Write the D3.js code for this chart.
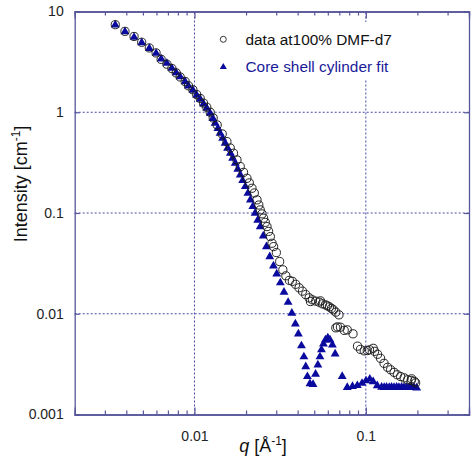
<!DOCTYPE html>
<html>
<head>
<meta charset="utf-8">
<script src="https://cdn.jsdelivr.net/npm/d3@7"></script>
<style>
  body { margin: 0; background: #fff; }
  svg { font-family: "Liberation Sans", Arial, sans-serif; }
</style>
</head>
<body>
<div id="chart"></div>
<script>
// measured data (open circles)
var dataQ = [0.00345, 0.00393, 0.00444, 0.00492, 0.00545, 0.00597, 0.00639, 0.0069, 0.00738, 0.00782,
  0.00825, 0.00882, 0.00922, 0.00979, 0.0103, 0.0108, 0.0113, 0.0118, 0.01235, 0.01286,
  0.01357, 0.01452, 0.01547, 0.01617, 0.0169, 0.0177, 0.0185, 0.01934, 0.02024, 0.0209,
  0.02166, 0.02234, 0.02317, 0.02374, 0.0242, 0.02478, 0.02532, 0.02591, 0.02651, 0.02708,
  0.02771, 0.02835, 0.02897, 0.03005, 0.03141, 0.0328, 0.03414, 0.0358, 0.03725, 0.03896,
  0.04078, 0.04265, 0.04457, 0.04667, 0.0475, 0.04877, 0.051, 0.0534, 0.0543, 0.0558,
  0.0581, 0.0597, 0.0613, 0.063, 0.0647, 0.0668, 0.0697, 0.0668, 0.0683, 0.0711,
  0.0748, 0.0779, 0.0842, 0.0894, 0.0931, 0.0979, 0.1019, 0.1051, 0.1104, 0.1125,
  0.1171, 0.1219, 0.1277, 0.134, 0.1395, 0.1462, 0.1526, 0.1596, 0.1673, 0.1754,
  0.1838, 0.185, 0.1919, 0.1953];
var dataI = [7.4, 6.35, 5.65, 4.95, 4.35, 3.88, 3.35, 3.0, 2.72, 2.46,
  2.24, 2.02, 1.83, 1.67, 1.5, 1.37, 1.23, 1.12, 1.0, 0.878,
  0.748, 0.609, 0.511, 0.442, 0.392, 0.336, 0.289, 0.253, 0.221, 0.199,
  0.176, 0.158, 0.135, 0.12, 0.1074, 0.098, 0.0888, 0.0807, 0.0733, 0.0657,
  0.0583, 0.0501, 0.0464, 0.0405, 0.033, 0.0273, 0.0238, 0.02145, 0.02097, 0.0196,
  0.0181, 0.01676, 0.0155, 0.01438, 0.01321, 0.01374, 0.01334, 0.01303, 0.01343, 0.01254,
  0.01225, 0.01198, 0.0117, 0.0113, 0.01093, 0.01037, 0.00975, 0.00724, 0.00741, 0.00736,
  0.00684, 0.00692, 0.00632, 0.00477, 0.00443, 0.00428, 0.00431, 0.00439, 0.00454, 0.00424,
  0.00396, 0.00361, 0.00322, 0.00294, 0.00278, 0.00262, 0.00248, 0.00238, 0.00231, 0.00221,
  0.00218, 0.00226, 0.00213, 0.00206];

// core shell cylinder fit (filled triangles)
var fitQ = [0.00345, 0.00393, 0.00444, 0.00492, 0.00545, 0.00597, 0.00639, 0.0069, 0.00738, 0.00782,
  0.00825, 0.00882, 0.00922, 0.00979, 0.0103, 0.0108, 0.0113, 0.0118, 0.01235, 0.0128,
  0.0132, 0.0137, 0.0141, 0.0146, 0.0151, 0.0156, 0.0162, 0.0167, 0.0173, 0.0179,
  0.0185, 0.0191, 0.0198, 0.0205, 0.0212, 0.0219, 0.0226, 0.0234, 0.0242, 0.0252,
  0.0263, 0.0275, 0.0289, 0.0302, 0.0317, 0.0333, 0.0352, 0.037, 0.0388, 0.0404,
  0.0421, 0.0435, 0.0446, 0.0456, 0.0472, 0.0492, 0.0509, 0.0525, 0.054, 0.0551,
  0.0566, 0.0581, 0.06, 0.0618, 0.0638, 0.0662, 0.0728, 0.0779, 0.0836, 0.0892,
  0.095, 0.1002, 0.1055, 0.1104, 0.1166, 0.1236, 0.128, 0.132, 0.137, 0.1413,
  0.146, 0.1512, 0.156, 0.1617, 0.167, 0.173, 0.179, 0.185, 0.191, 0.198];
var fitI = [7.35, 6.31, 5.55, 4.9, 4.31, 3.85, 3.38, 3.06, 2.73, 2.47,
  2.25, 2.01, 1.82, 1.66, 1.48, 1.35, 1.21, 1.1, 0.977, 0.87,
  0.778, 0.69, 0.619, 0.553, 0.493, 0.44, 0.392, 0.35, 0.312, 0.272,
  0.239, 0.21, 0.183, 0.157, 0.135, 0.116, 0.0995, 0.085, 0.0733, 0.0593,
  0.0464, 0.0369, 0.0299, 0.0249, 0.0203, 0.0164, 0.013, 0.01014, 0.00794, 0.0063,
  0.00481, 0.00374, 0.00299, 0.00238, 0.00202, 0.00199, 0.00251, 0.00311, 0.00374, 0.00439,
  0.00503, 0.00551, 0.00577, 0.00551, 0.00491, 0.004, 0.00239, 0.00186, 0.0019, 0.00194,
  0.00204, 0.00216, 0.00225, 0.00212, 0.00193, 0.00187, 0.00186, 0.00187, 0.00186, 0.00187,
  0.00186, 0.00187, 0.00186, 0.00187, 0.00186, 0.00187, 0.00186, 0.00187, 0.00186, 0.00184];

var xTicks = [0.01, 0.1];
var xTickLabels = ["0.01", "0.1"];
var xMinor = [0.003, 0.004, 0.005, 0.006, 0.007, 0.008, 0.009,
  0.02, 0.03, 0.04, 0.05, 0.06, 0.07, 0.08, 0.09, 0.2, 0.3];
var yTicks = [0.001, 0.01, 0.1, 1, 10];
var yTickLabels = ["0.001", "0.01", "0.1", "1", "10"];

var legendNames = ["data at100% DMF-d7", "Core shell cylinder fit"];

var width = 474, height = 467;
var margin = {top: 11.5, right: 5, bottom: 52.5, left: 74.7};
var axisColor = "#56569a", gridColor = "#4a4aaa", fitColor = "#0a0a9e";

var svg = d3.select("#chart").append("svg")
    .attr("width", width)
    .attr("height", height);

var x = d3.scaleLog().domain([0.002, 0.4]).range([margin.left, width - margin.right]);
var y = d3.scaleLog().domain([0.001, 10]).range([height - margin.bottom, margin.top]);

var x0 = x.range()[0], x1 = x.range()[1], y0 = y.range()[0], y1 = y.range()[1];

// grid
var grid = svg.append("g")
    .attr("stroke", gridColor)
    .attr("stroke-width", 1)
    .attr("stroke-dasharray", "2,2");
grid.selectAll(".vg").data(xTicks).enter().append("line")
    .attr("x1", function(d){ return x(d); }).attr("x2", function(d){ return x(d); })
    .attr("y1", y0).attr("y2", y1);
grid.selectAll(".hg").data(yTicks.slice(1, 4)).enter().append("line")
    .attr("x1", x0).attr("x2", x1)
    .attr("y1", function(d){ return y(d); }).attr("y2", function(d){ return y(d); });

// legend background hides the grid
svg.append("rect")
    .attr("x", 212).attr("y", 22).attr("width", 186).attr("height", 58)
    .attr("fill", "#fff");

// axes (ticks pointing inward)
svg.append("g")
    .attr("transform", "translate(0," + y0 + ")")
    .call(d3.axisBottom(x).tickValues(xTicks).tickSize(-7).tickFormat(function(d, i){ return xTickLabels[i]; }))
    .call(function(g){
      g.selectAll("text").attr("y", 17).attr("font-size", 14).attr("fill", "#222");
    });
svg.append("g")
    .attr("transform", "translate(0," + y0 + ")")
    .call(d3.axisBottom(x).tickValues(xMinor).tickSize(-4).tickFormat(""));
svg.append("g")
    .attr("transform", "translate(0," + y1 + ")")
    .call(d3.axisTop(x).tickValues(xTicks).tickSize(-7).tickFormat(""));
svg.append("g")
    .attr("transform", "translate(0," + y1 + ")")
    .call(d3.axisTop(x).tickValues(xMinor).tickSize(-4).tickFormat(""));
svg.append("g")
    .attr("transform", "translate(" + x0 + ",0)")
    .call(d3.axisLeft(y).tickValues(yTicks).tickSize(-5).tickFormat(function(d, i){ return yTickLabels[i]; }))
    .call(function(g){
      g.selectAll("text").attr("x", -11).attr("font-size", 14).attr("fill", "#222");
    });
svg.append("g")
    .attr("transform", "translate(" + x1 + ",0)")
    .call(d3.axisRight(y).tickValues(yTicks).tickSize(-5).tickFormat(""));

svg.selectAll(".domain").attr("stroke", axisColor).attr("stroke-width", 1.3);
svg.selectAll(".tick line").attr("stroke", axisColor).attr("stroke-width", 1.2);

// fit triangles
var tri = d3.symbol().type(d3.symbolTriangle).size(34);
svg.append("g").selectAll("path").data(fitQ).enter().append("path")
    .attr("d", tri)
    .attr("transform", function(d, i){ return "translate(" + x(d) + "," + y(fitI[i]) + ")"; })
    .attr("fill", fitColor);

// data circles
svg.append("g").selectAll("circle").data(dataQ).enter().append("circle")
    .attr("cx", function(d){ return x(d); })
    .attr("cy", function(d, i){ return y(dataI[i]); })
    .attr("r", 4.1)
    .attr("fill", "none")
    .attr("stroke", "#1a1a1a")
    .attr("stroke-width", 0.95);

// legend
var lg = svg.append("g").attr("font-size", 15.4);
lg.append("circle").attr("cx", 223.3).attr("cy", 39.3).attr("r", 3)
    .attr("fill", "none").attr("stroke", "#222").attr("stroke-width", 0.9);
lg.append("text").attr("x", 245.5).attr("y", 44.5).attr("fill", "#111").text(legendNames[0]);
lg.append("path").attr("d", d3.symbol().type(d3.symbolTriangle).size(22))
    .attr("transform", "translate(223.3,67)").attr("fill", fitColor);
lg.append("text").attr("x", 245.5).attr("y", 72).attr("fill", "#1a1a99").text(legendNames[1]);

// axis titles
var yl = svg.append("text")
    .attr("transform", "translate(26.5,184) rotate(-90)")
    .attr("text-anchor", "middle")
    .attr("font-size", 18)
    .attr("fill", "#111");
yl.append("tspan").text("Intensity [cm");
yl.append("tspan").attr("font-size", 12).attr("dy", -7).text("-1");
yl.append("tspan").attr("dy", 7).text("]");

var xl = svg.append("text")
    .attr("x", 263).attr("y", 452)
    .attr("text-anchor", "middle")
    .attr("font-size", 18)
    .attr("fill", "#111");
xl.append("tspan").attr("font-style", "italic").text("q");
xl.append("tspan").text(" [Å");
xl.append("tspan").attr("font-size", 12).attr("dy", -7).text("-1");
xl.append("tspan").attr("dy", 7).text("]");
</script>
</body>
</html>
